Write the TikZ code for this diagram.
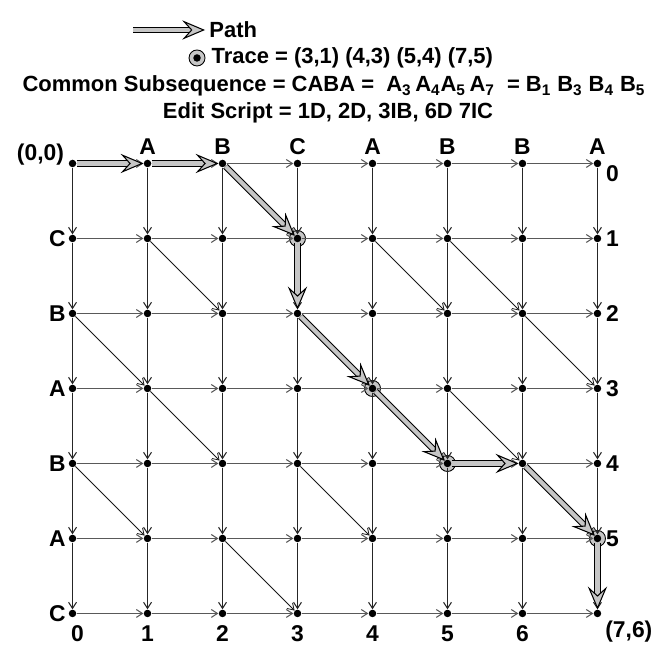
\documentclass[tikz,border=0pt]{standalone}
\usepackage{fontspec}
\setmainfont{Liberation Sans}
\usetikzlibrary{arrows.meta,positioning}

\begin{document}
\begin{tikzpicture}[x=1.5cm, y=-1.5cm, font=\bfseries\fontsize{13}{15}\selectfont,
	dot/.style={circle, fill=black, inner sep=0pt, minimum size=0.15cm},
	tracemark/.style={circle, draw=black, fill=gray!45, line width=0.5pt, inner sep=0pt, minimum size=0.32cm},
	hline/.style={draw=black!65, line width=0.6pt, -{Straight Barb[length=3.5pt,width=4.5pt]}},
	vline/.style={draw=black!85, line width=0.6pt, -{Straight Barb[length=3.5pt,width=4.5pt]}},
	dline/.style={draw=black!90, line width=0.45pt, -{Straight Barb[length=3.5pt,width=4.5pt]}},
	pathline/.style={draw=black, line width=0.6pt, double=gray!45, double distance=2.4pt,
		-{Stealth[length=13pt,width=11pt,inset=5pt,fill=gray!45,line width=0.6pt]}},
	legendtext/.style={font=\bfseries\fontsize{12.5}{15}\selectfont}]
	\useasboundingbox (-0.967,-2.18) rectangle (7.927,6.7);

	% trace points
	\foreach \i/\j in {3/1,4/3,5/4,7/5}
		\node[tracemark] (t-\i-\j) at (\i,\j) {};

	% grid points
	\foreach \i in {0,...,7}
		\foreach \j in {0,...,6}
			\node[dot] (p-\i-\j) at (\i,\j) {};

	% edges
	\foreach \j in {0,...,6}
		\foreach \i [count=\k] in {0,...,6}
			\draw[hline] (p-\i-\j) -- (p-\k-\j);
	\foreach \i in {0,...,7}
		\foreach \j [count=\k] in {0,...,5}
			\draw[vline] (p-\i-\j) -- (p-\i-\k);
	\foreach \a/\b in {2-0/3-1, 1-1/2-2, 4-1/5-2, 5-1/6-2, 0-2/1-3, 3-2/4-3, 6-2/7-3,
			1-3/2-4, 4-3/5-4, 5-3/6-4, 0-4/1-5, 3-4/4-5, 6-4/7-5, 2-5/3-6}
		\draw[dline] (p-\a) -- (p-\b);

	% the path
	\foreach \a/\b in {0-0/1-0, 1-0/2-0, 2-0/3-1, 3-1/3-2, 3-2/4-3, 4-3/5-4, 5-4/6-4, 6-4/7-5, 7-5/7-6}
		\draw[pathline] (p-\a) -- (p-\b);

	% sequence labels
	\foreach \s [count=\i] in {A,B,C,A,B,B,A}
		\node[above=-1pt of p-\i-0] {\s};
	\foreach \s [count=\j] in {C,B,A,B,A,C}
		\node[left=-2pt of p-0-\j] {\s};
	\foreach \j in {1,...,5}
		\node[right=-1pt of p-7-\j] {\j};
	\node[right=-1pt of p-7-0, yshift=-0.2cm] {0};
	\foreach \i in {1,...,6}
		\node[below=1pt of p-\i-6] {\i};
	\node[below=1pt of p-0-6, xshift=0.1cm] {0};
	\node[left=-1pt of p-0-0, yshift=5pt] {(0,0)};
	\node[below right=-1pt of p-7-6] {(7,6)};

	% legend
	\coordinate (pl-a) at (0.807,-1.78);
	\coordinate (pl-b) at (1.767,-1.78);
	\draw[pathline] (pl-a) -- (pl-b);
	\node[legendtext, right=-1pt of pl-b] {Path};
	\node[tracemark] (leg-t) at (1.66,-1.407) {};
	\node[dot] (leg-d) at (leg-t) {};
	\node[legendtext, right=0pt of leg-t] {Trace = (3,1) (4,3) (5,4) (7,5)};
	\node[legendtext] (lcs) at (3.487,-1.033) {Common Subsequence = CABA = \ A\textsubscript{3}\,A\textsubscript{4}A\textsubscript{5}\,A\textsubscript{7} \ = B\textsubscript{1} B\textsubscript{3} B\textsubscript{4} B\textsubscript{5}};
	\node[legendtext] (edits) at (3.407,-0.673) {Edit Script = 1D, 2D, 3IB, 6D 7IC};
\end{tikzpicture}
\end{document}
